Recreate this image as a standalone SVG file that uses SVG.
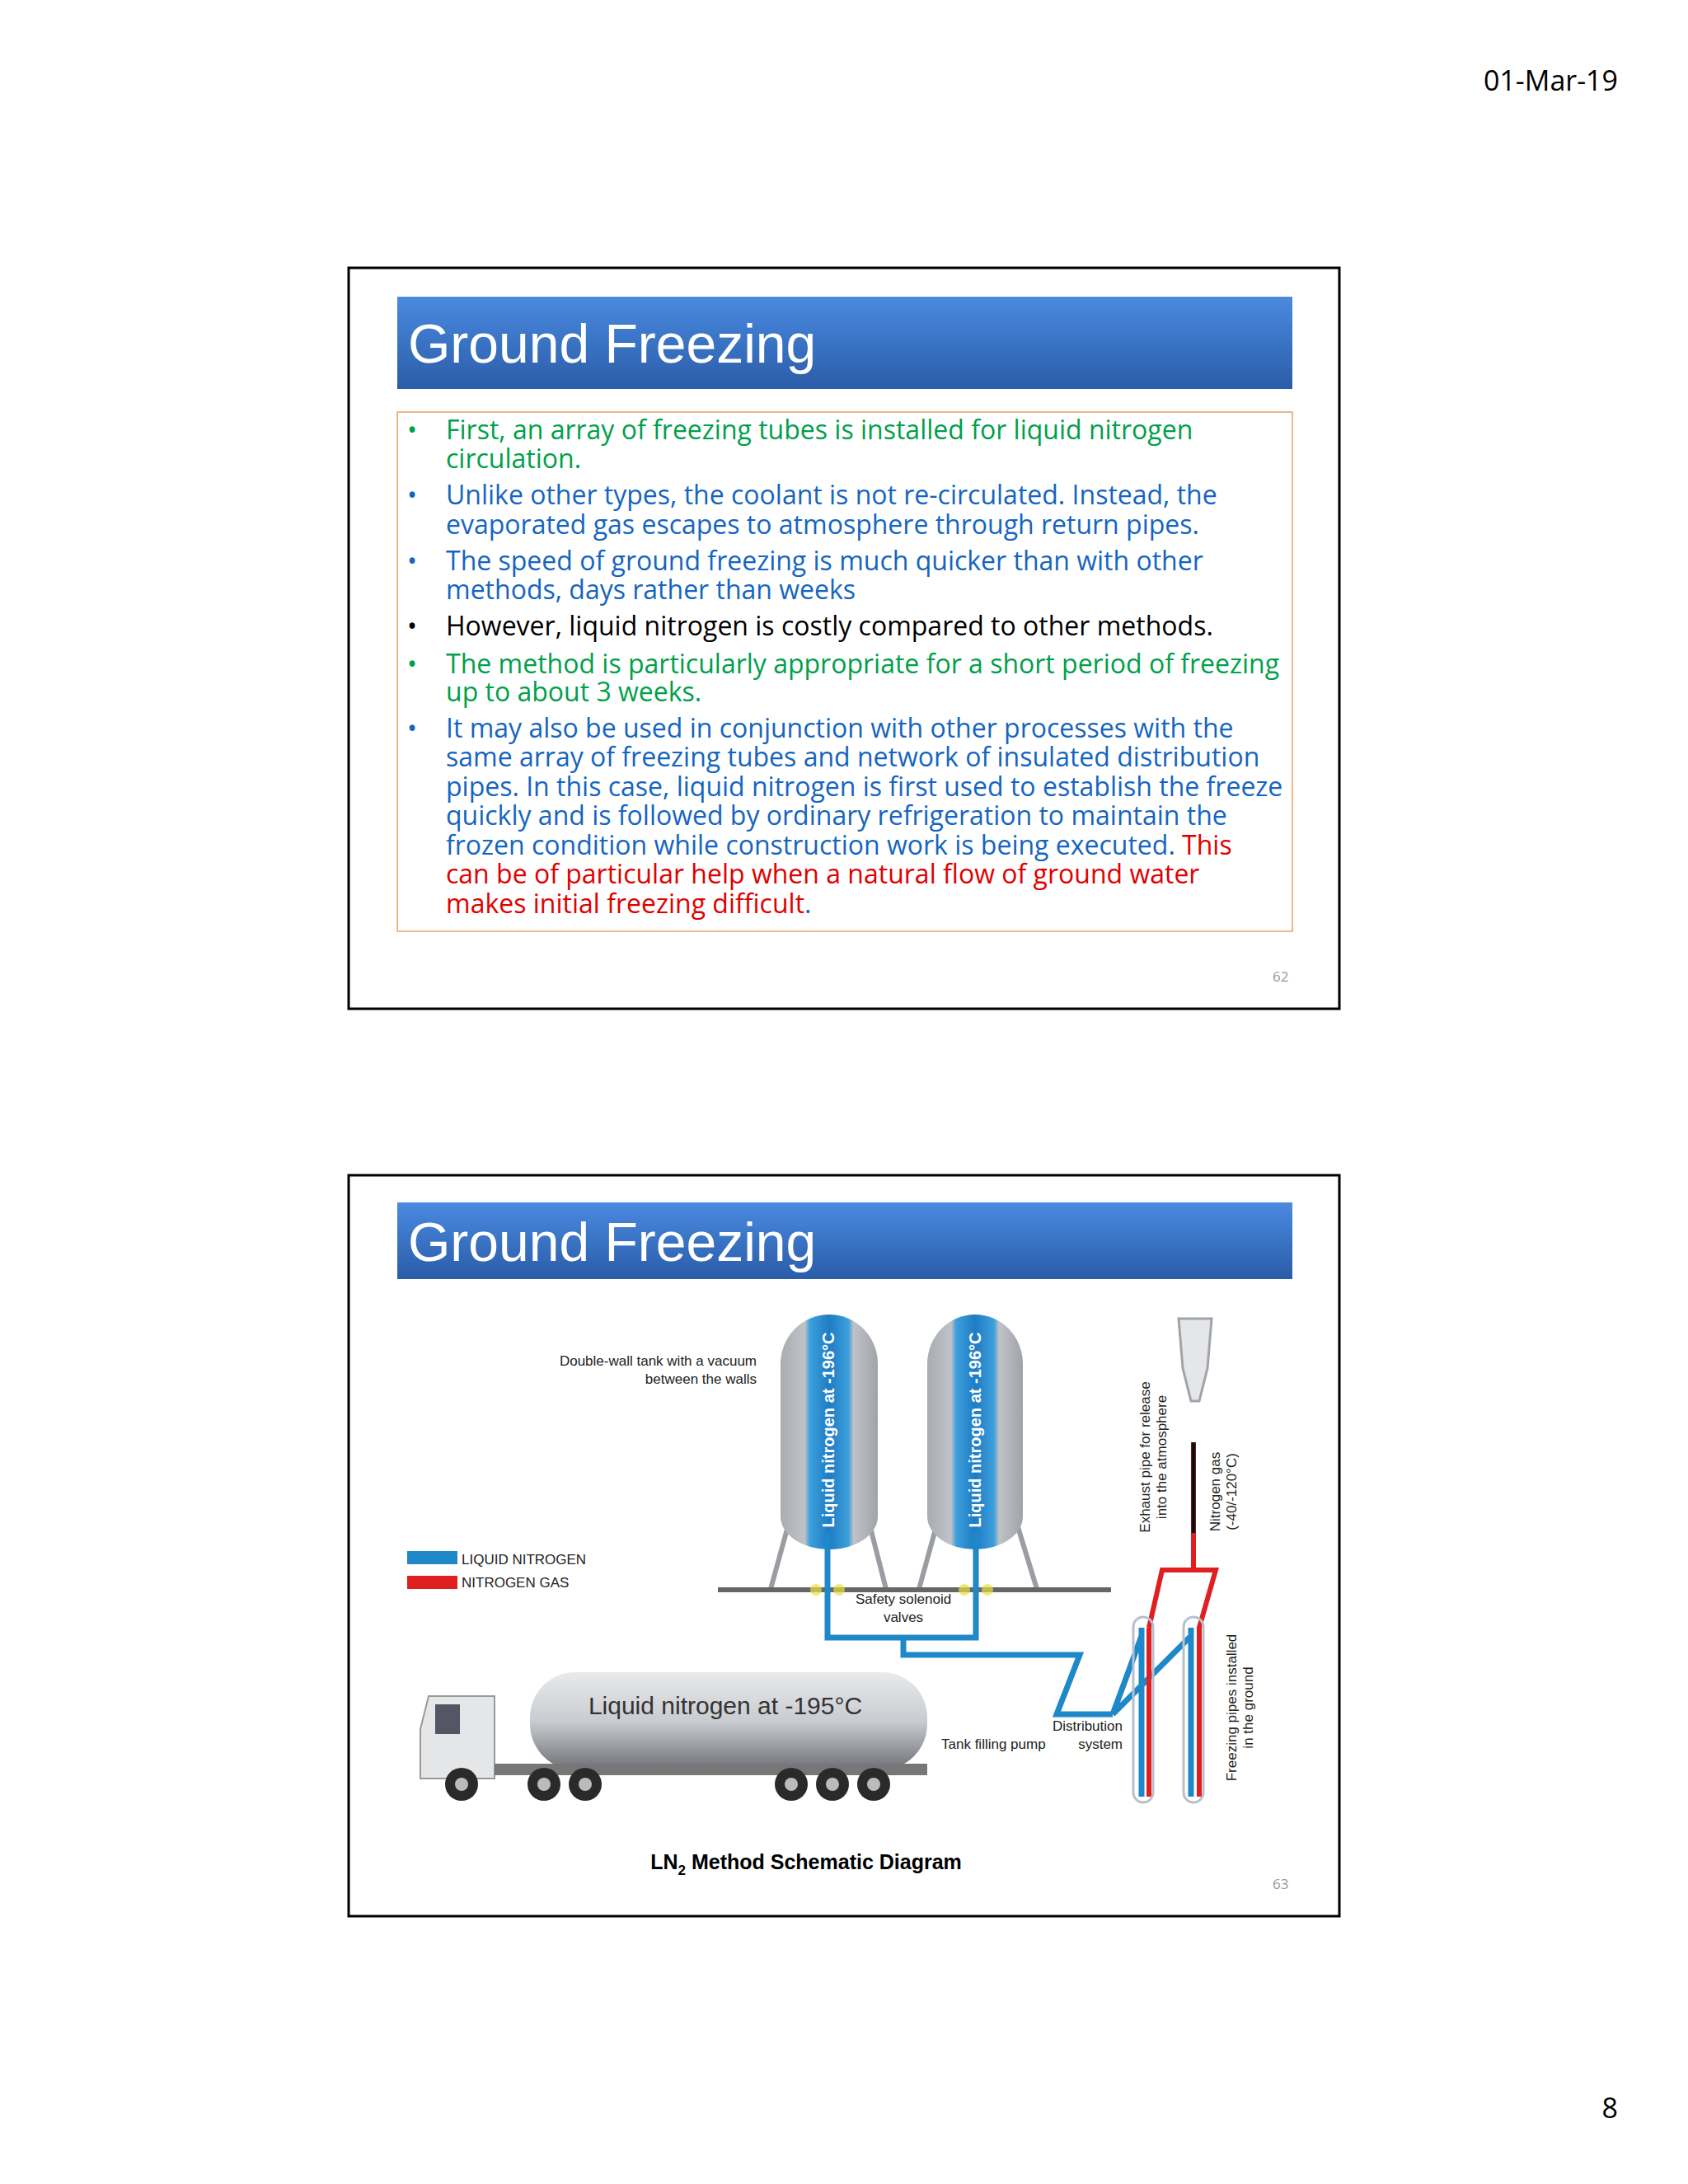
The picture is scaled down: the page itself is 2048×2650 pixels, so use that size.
<svg xmlns="http://www.w3.org/2000/svg" width="2048" height="2650" viewBox="0 0 2048 2650">
<defs>
<linearGradient id="hdr" x1="0" y1="0" x2="0" y2="1"><stop offset="0" stop-color="#4a8ae0"/><stop offset="1" stop-color="#2a5ca8"/></linearGradient>
<linearGradient id="tank" x1="0" y1="0" x2="1" y2="0"><stop offset="0" stop-color="#a9acb1"/><stop offset="0.25" stop-color="#bfc2c6"/><stop offset="0.3" stop-color="#3ea0dc"/><stop offset="0.5" stop-color="#1e7cc4"/><stop offset="0.7" stop-color="#3ea0dc"/><stop offset="0.75" stop-color="#bfc2c6"/><stop offset="1" stop-color="#a0a3a8"/></linearGradient>
<linearGradient id="trk" x1="0" y1="0" x2="0" y2="1"><stop offset="0" stop-color="#e8eaec"/><stop offset="0.5" stop-color="#c9ccd0"/><stop offset="1" stop-color="#6e7278"/></linearGradient>
<style>
.frame{fill:#fff;stroke:#000;stroke-width:3}
.title{font-family:"Liberation Sans","Open Sans",sans-serif;font-size:66px;fill:#fff}
.b{font-family:"Open Sans","Liberation Sans",sans-serif;font-size:32px}
.g{fill:#00a04a}.bl{fill:#1565c0}.k{fill:#000}.r{fill:#e00000}
.s{font-family:"Liberation Sans",sans-serif;font-size:17px;fill:#222}
.pipeB{fill:none;stroke:#1e88c8;stroke-width:7}
.pipeR{fill:none;stroke:#e02020;stroke-width:6}
.leg{stroke:#9a9ea3;stroke-width:6;fill:none}
.pn{font-family:"Open Sans",sans-serif;font-size:17px;fill:#999}
</style>
</defs>
<rect width="2048" height="2650" fill="#fff"/>
<text x="1963" y="110" text-anchor="end" font-family="Open Sans,Liberation Sans,sans-serif" font-size="34">01-Mar-19</text>
<text x="1963" y="2570" text-anchor="end" font-family="Open Sans,Liberation Sans,sans-serif" font-size="34">8</text>

<g id="slide62">
<rect class="frame" x="423" y="325" width="1202" height="899"/>
<rect x="482" y="360" width="1086" height="112" fill="url(#hdr)"/>
<text class="title" x="495" y="440">Ground Freezing</text>
<rect x="482" y="500" width="1086" height="630" fill="#fff" stroke="#f0a060" stroke-width="1.5"/>
<g class="b">
<text class="g" x="494" y="533">•</text>
<text class="g" x="541" y="533">First, an array of freezing tubes is installed for liquid nitrogen</text>
<text class="g" x="541" y="568">circulation.</text>
<text class="bl" x="494" y="612">•</text>
<text class="bl" x="541" y="612">Unlike other types, the coolant is not re-circulated. Instead, the</text>
<text class="bl" x="541" y="648">evaporated gas escapes to atmosphere through return pipes.</text>
<text class="bl" x="494" y="692">•</text>
<text class="bl" x="541" y="692">The speed of ground freezing is much quicker than with other</text>
<text class="bl" x="541" y="727">methods, days rather than weeks</text>
<text class="k" x="494" y="771">•</text>
<text class="k" x="541" y="771">However, liquid nitrogen is costly compared to other methods.</text>
<text class="g" x="494" y="817">•</text>
<text class="g" x="541" y="817">The method is particularly appropriate for a short period of freezing</text>
<text class="g" x="541" y="851">up to about 3 weeks.</text>
<text class="bl" x="494" y="895">•</text>
<text class="bl" x="541" y="895">It may also be used in conjunction with other processes with the</text>
<text class="bl" x="541" y="930">same array of freezing tubes and network of insulated distribution</text>
<text class="bl" x="541" y="966">pipes. In this case, liquid nitrogen is first used to establish the freeze</text>
<text class="bl" x="541" y="1001">quickly and is followed by ordinary refrigeration to maintain the</text>
<text x="541" y="1037"><tspan class="bl">frozen condition while construction work is being executed. </tspan><tspan class="r">This</tspan></text>
<text class="r" x="541" y="1072">can be of particular help when a natural flow of ground water</text>
<text x="541" y="1108"><tspan class="r">makes initial freezing difficult</tspan><tspan class="bl">.</tspan></text>
</g>
<text class="pn" x="1544" y="1191">62</text>
</g>

<g id="slide63">
<rect class="frame" x="423" y="1426" width="1202" height="899"/>
<rect x="482" y="1459" width="1086" height="93" fill="url(#hdr)"/>
<text class="title" x="495" y="1530">Ground Freezing</text>
<text class="pn" x="1544" y="2292">63</text>
<text x="978" y="2268" text-anchor="middle" font-family="Liberation Sans,sans-serif" font-weight="bold" font-size="25">LN<tspan font-size="17" dy="7">2</tspan><tspan dy="-7"> Method Schematic Diagram</tspan></text>
</g>

<g id="tanks">
<path class="leg" d="M962 1830 L935 1928 M1050 1830 L1075 1928 M1142 1830 L1115 1928 M1228 1830 L1258 1928"/>
<path d="M947 1655 A59 60 0 0 1 1065 1655 L1065 1840 A59 40 0 0 1 947 1840 Z" fill="url(#tank)"/>
<path d="M1125 1655 A58 60 0 0 1 1241 1655 L1241 1840 A58 40 0 0 1 1125 1840 Z" fill="url(#tank)"/>
<text transform="translate(1012,1735) rotate(-90)" text-anchor="middle" font-family="Liberation Sans,sans-serif" font-size="20" font-weight="bold" fill="#fff">Liquid nitrogen at -196°C</text>
<text transform="translate(1190,1735) rotate(-90)" text-anchor="middle" font-family="Liberation Sans,sans-serif" font-size="20" font-weight="bold" fill="#fff">Liquid nitrogen at -196°C</text>
<line x1="871" y1="1929" x2="1348" y2="1929" stroke="#666" stroke-width="6"/>
<text class="s" x="918" y="1657" text-anchor="end">Double-wall tank with a vacuum</text>
<text class="s" x="918" y="1679" text-anchor="end">between the walls</text>
</g>

<g id="legend">
<rect x="494" y="1882" width="61" height="16" fill="#1e88c8"/>
<rect x="494" y="1912" width="61" height="16" fill="#e02020"/>
<text class="s" x="560" y="1898">LIQUID NITROGEN</text>
<text class="s" x="560" y="1926">NITROGEN GAS</text>
</g>

<g id="connectors">
<path class="pipeB" d="M1004 1860 V1987 H1184 V1860"/>
<path class="pipeB" d="M1096 1987 V2008 H1310 L1282 2080 H1350 M1350 2080 L1385 1985 M1350 2080 L1445 1985 M1385 1975 V2180 M1445 1975 V2180"/>
<path class="pipeR" d="M1394 1975 L1410 1905 H1475 L1455 1975 V2180 M1394 1975 V2180 M1448 1905 V1750"/>
<line x1="1448" y1="1750" x2="1448" y2="1860" stroke="#111" stroke-width="5"/>
<circle cx="990" cy="1929" r="7" fill="#e8e040" opacity="0.7"/><circle cx="1018" cy="1929" r="7" fill="#e8e040" opacity="0.7"/>
<circle cx="1170" cy="1929" r="7" fill="#e8e040" opacity="0.7"/><circle cx="1198" cy="1929" r="7" fill="#e8e040" opacity="0.7"/>
</g>

<g id="freezepipes">
<rect x="1375" y="1962" width="24" height="225" rx="12" fill="none" stroke="#b8c0cc" stroke-width="3"/>
<rect x="1436" y="1962" width="24" height="225" rx="12" fill="none" stroke="#b8c0cc" stroke-width="3"/>
<path d="M1430 1600 h40 l-5 60 l-10 40 h-10 l-10 -40 z" fill="#e4e6e8" stroke="#a0a4a8" stroke-width="3"/>
</g>

<g id="labels">
<text class="s" x="1096" y="1946" text-anchor="middle">Safety solenoid</text>
<text class="s" x="1096" y="1968" text-anchor="middle">valves</text>
<text class="s" x="1362" y="2100" text-anchor="end">Distribution</text>
<text class="s" x="1362" y="2122" text-anchor="end">system</text>
<text class="s" x="1142" y="2122">Tank filling pump</text>
<text class="s" transform="translate(1395,1768) rotate(-90)" text-anchor="middle">Exhaust pipe for release</text>
<text class="s" transform="translate(1415,1768) rotate(-90)" text-anchor="middle">into the atmosphere</text>
<text class="s" transform="translate(1480,1810) rotate(-90)" text-anchor="middle">Nitrogen gas</text>
<text class="s" transform="translate(1500,1810) rotate(-90)" text-anchor="middle">(-40/-120°C)</text>
<text class="s" transform="translate(1500,2072) rotate(-90)" text-anchor="middle">Freezing pipes installed</text>
<text class="s" transform="translate(1520,2072) rotate(-90)" text-anchor="middle">in the ground</text>
</g>

<g id="truck">
<rect x="643" y="2029" width="482" height="118" rx="55" fill="url(#trk)"/>
<text x="880" y="2080" text-anchor="middle" font-family="Liberation Sans,sans-serif" font-size="30" fill="#333">Liquid nitrogen at -195°C</text>
<path d="M520 2058 h80 v100 h-90 v-60 z" fill="#e4e6e8" stroke="#999" stroke-width="2"/>
<rect x="528" y="2068" width="30" height="36" fill="#556"/>
<rect x="600" y="2140" width="525" height="14" fill="#777"/>
<g fill="#2a2a2a">
<circle cx="560" cy="2165" r="20"/><circle cx="660" cy="2165" r="20"/><circle cx="710" cy="2165" r="20"/>
<circle cx="960" cy="2165" r="20"/><circle cx="1010" cy="2165" r="20"/><circle cx="1060" cy="2165" r="20"/>
</g>
<g fill="#bbb"><circle cx="560" cy="2165" r="8"/><circle cx="660" cy="2165" r="8"/><circle cx="710" cy="2165" r="8"/><circle cx="960" cy="2165" r="8"/><circle cx="1010" cy="2165" r="8"/><circle cx="1060" cy="2165" r="8"/></g>
</g>
</svg>
